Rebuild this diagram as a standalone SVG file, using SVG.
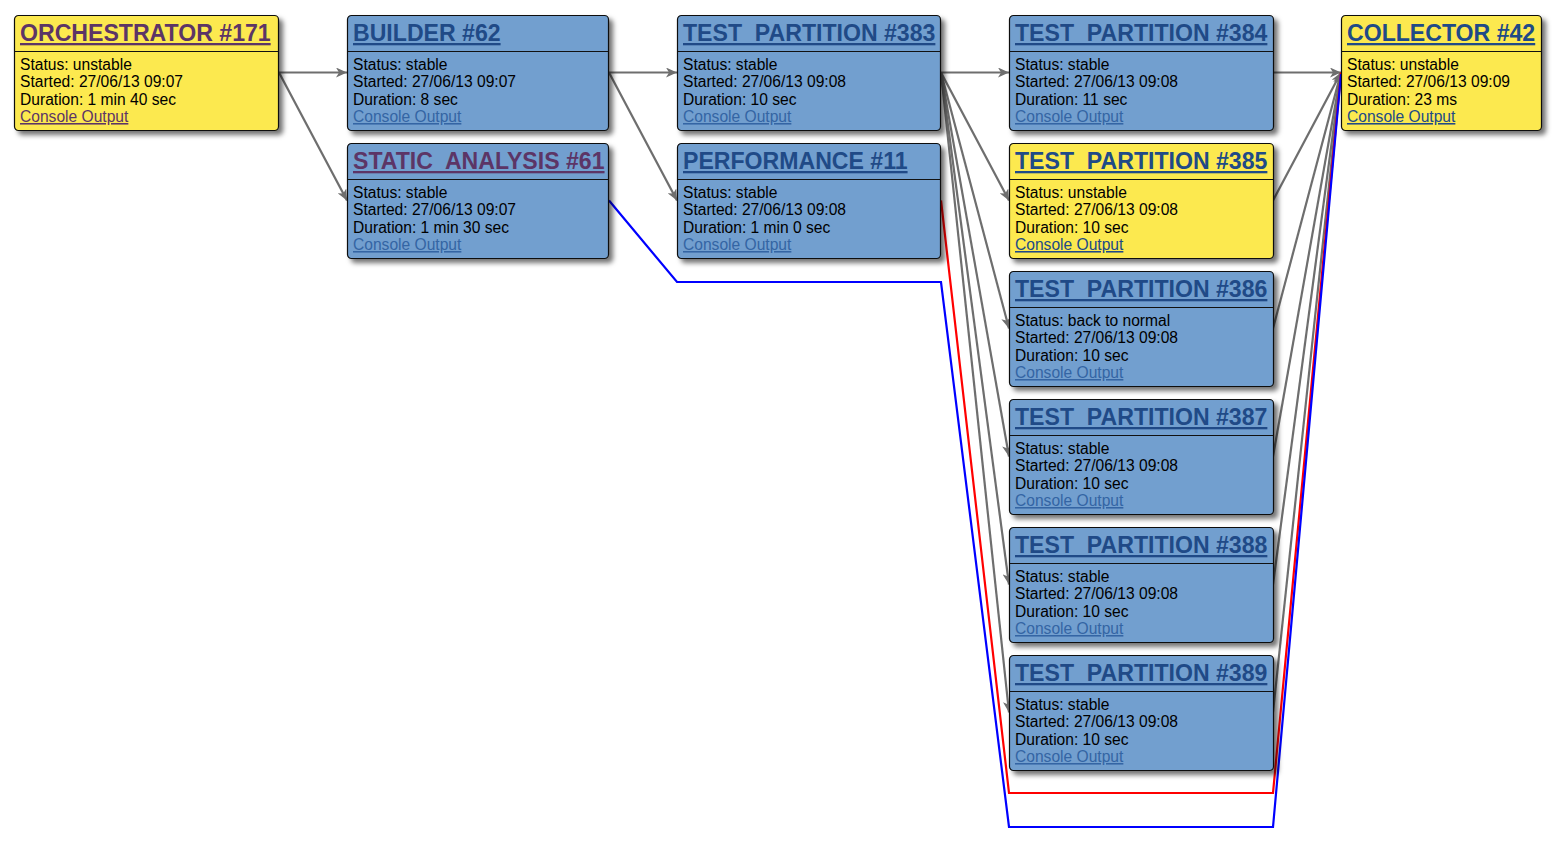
<svg xmlns="http://www.w3.org/2000/svg" width="1562" height="841" viewBox="0 0 1562 841">
<style>
.box{stroke:#111;stroke-width:1.2}
.y{fill:#fce94f}
.b{fill:#729fcf}
.div{stroke:#111;stroke-width:1.2}
.t{font-family:"Liberation Sans",Arial,sans-serif;font-size:23.1px;font-weight:bold;text-decoration:underline;white-space:pre}
.tb{fill:#204a87}
.tp{fill:#5c3566}
.s{font-family:"Liberation Sans",Arial,sans-serif;font-size:15.6px;fill:#000}
.lk{text-decoration:underline}
.lb{fill:#3465a4}
.ld{fill:#204a87}
.lp{fill:#5c3566}
.e{fill:none;stroke:#6e6e6e;stroke-width:2.2}
.red{fill:none;stroke:#ff0000;stroke-width:2.2}
.blue{fill:none;stroke:#0000ff;stroke-width:2.2}
</style>
<defs>
<filter id="sh" x="-10%" y="-10%" width="130%" height="140%">
<feDropShadow dx="4" dy="4" stdDeviation="2.5" flood-color="#000" flood-opacity="0.55"/>
</filter>
<marker id="ar" markerUnits="userSpaceOnUse" markerWidth="12" markerHeight="10" refX="11" refY="5" orient="auto">
<path d="M0,0 L11,5 L0,10 L3,5 z" fill="#6e6e6e"/>
</marker>
</defs>

<g id="connectors">
<line class="e" x1="279" y1="72.5" x2="347" y2="72.5" marker-end="url(#ar)"/>
<line class="e" x1="279" y1="72.5" x2="347" y2="200.5" marker-end="url(#ar)"/>
<line class="e" x1="609" y1="72.5" x2="677" y2="72.5" marker-end="url(#ar)"/>
<line class="e" x1="609" y1="72.5" x2="677" y2="200.5" marker-end="url(#ar)"/>
<line class="e" x1="941" y1="72.5" x2="1009" y2="72.5" marker-end="url(#ar)"/>
<line class="e" x1="941" y1="72.5" x2="1009" y2="200.5" marker-end="url(#ar)"/>
<line class="e" x1="941" y1="72.5" x2="1009" y2="328.5" marker-end="url(#ar)"/>
<line class="e" x1="941" y1="72.5" x2="1009" y2="456.5" marker-end="url(#ar)"/>
<line class="e" x1="941" y1="72.5" x2="1009" y2="584.5" marker-end="url(#ar)"/>
<line class="e" x1="941" y1="72.5" x2="1009" y2="712.5" marker-end="url(#ar)"/>
<line class="e" x1="1273" y1="72.5" x2="1341" y2="72.5" marker-end="url(#ar)"/>
<line class="e" x1="1273" y1="200.5" x2="1341" y2="72.5" marker-end="url(#ar)"/>
<line class="e" x1="1273" y1="328.5" x2="1341" y2="72.5" marker-end="url(#ar)"/>
<line class="e" x1="1273" y1="456.5" x2="1341" y2="72.5" marker-end="url(#ar)"/>
<line class="e" x1="1273" y1="584.5" x2="1341" y2="72.5" marker-end="url(#ar)"/>
<line class="e" x1="1273" y1="712.5" x2="1341" y2="72.5" marker-end="url(#ar)"/>
<polyline class="red" points="941,200.5 1009,793 1273,793 1341,72.5"/>
<polyline class="blue" points="609,200.5 677,282 941,282 1009,827 1273,827 1341,74"/>
</g>

<g id="orchestrator" transform="translate(14.5,15.5)">
<rect class="box y" width="264" height="115" rx="4" filter="url(#sh)"/>
<line class="div" x1="0" y1="36" x2="264" y2="36"/>
<text class="t tp" x="5.5" y="25.5">ORCHESTRATOR #171</text>
<text class="s" x="5.5" y="54.5">Status: unstable</text>
<text class="s" x="5.5" y="71.8">Started: 27/06/13 09:07</text>
<text class="s" x="5.5" y="89.2">Duration: 1 min 40 sec</text>
<text class="s lk lp" x="5.5" y="106.5">Console Output</text>
</g>

<g id="builder" transform="translate(347.5,15.5)">
<rect class="box b" width="261" height="115" rx="4" filter="url(#sh)"/>
<line class="div" x1="0" y1="36" x2="261" y2="36"/>
<text class="t tb" x="5.5" y="25.5">BUILDER #62</text>
<text class="s" x="5.5" y="54.5">Status: stable</text>
<text class="s" x="5.5" y="71.8">Started: 27/06/13 09:07</text>
<text class="s" x="5.5" y="89.2">Duration: 8 sec</text>
<text class="s lk lb" x="5.5" y="106.5">Console Output</text>
</g>

<g id="static_analysis" transform="translate(347.5,143.5)">
<rect class="box b" width="261" height="115" rx="4" filter="url(#sh)"/>
<line class="div" x1="0" y1="36" x2="261" y2="36"/>
<text class="t tp" x="5.5" y="25.5">STATIC  ANALYSIS #61</text>
<text class="s" x="5.5" y="54.5">Status: stable</text>
<text class="s" x="5.5" y="71.8">Started: 27/06/13 09:07</text>
<text class="s" x="5.5" y="89.2">Duration: 1 min 30 sec</text>
<text class="s lk lb" x="5.5" y="106.5">Console Output</text>
</g>

<g id="test_partition_383" transform="translate(677.5,15.5)">
<rect class="box b" width="263" height="115" rx="4" filter="url(#sh)"/>
<line class="div" x1="0" y1="36" x2="263" y2="36"/>
<text class="t tb" x="5.5" y="25.5">TEST  PARTITION #383</text>
<text class="s" x="5.5" y="54.5">Status: stable</text>
<text class="s" x="5.5" y="71.8">Started: 27/06/13 09:08</text>
<text class="s" x="5.5" y="89.2">Duration: 10 sec</text>
<text class="s lk lb" x="5.5" y="106.5">Console Output</text>
</g>

<g id="performance" transform="translate(677.5,143.5)">
<rect class="box b" width="263" height="115" rx="4" filter="url(#sh)"/>
<line class="div" x1="0" y1="36" x2="263" y2="36"/>
<text class="t tb" x="5.5" y="25.5">PERFORMANCE #11</text>
<text class="s" x="5.5" y="54.5">Status: stable</text>
<text class="s" x="5.5" y="71.8">Started: 27/06/13 09:08</text>
<text class="s" x="5.5" y="89.2">Duration: 1 min 0 sec</text>
<text class="s lk lb" x="5.5" y="106.5">Console Output</text>
</g>

<g id="test_partition_384" transform="translate(1009.5,15.5)">
<rect class="box b" width="264" height="115" rx="4" filter="url(#sh)"/>
<line class="div" x1="0" y1="36" x2="264" y2="36"/>
<text class="t tb" x="5.5" y="25.5">TEST  PARTITION #384</text>
<text class="s" x="5.5" y="54.5">Status: stable</text>
<text class="s" x="5.5" y="71.8">Started: 27/06/13 09:08</text>
<text class="s" x="5.5" y="89.2">Duration: 11 sec</text>
<text class="s lk lb" x="5.5" y="106.5">Console Output</text>
</g>

<g id="test_partition_385" transform="translate(1009.5,143.5)">
<rect class="box y" width="264" height="115" rx="4" filter="url(#sh)"/>
<line class="div" x1="0" y1="36" x2="264" y2="36"/>
<text class="t tb" x="5.5" y="25.5">TEST  PARTITION #385</text>
<text class="s" x="5.5" y="54.5">Status: unstable</text>
<text class="s" x="5.5" y="71.8">Started: 27/06/13 09:08</text>
<text class="s" x="5.5" y="89.2">Duration: 10 sec</text>
<text class="s lk ld" x="5.5" y="106.5">Console Output</text>
</g>

<g id="test_partition_386" transform="translate(1009.5,271.5)">
<rect class="box b" width="264" height="115" rx="4" filter="url(#sh)"/>
<line class="div" x1="0" y1="36" x2="264" y2="36"/>
<text class="t tb" x="5.5" y="25.5">TEST  PARTITION #386</text>
<text class="s" x="5.5" y="54.5">Status: back to normal</text>
<text class="s" x="5.5" y="71.8">Started: 27/06/13 09:08</text>
<text class="s" x="5.5" y="89.2">Duration: 10 sec</text>
<text class="s lk lb" x="5.5" y="106.5">Console Output</text>
</g>

<g id="test_partition_387" transform="translate(1009.5,399.5)">
<rect class="box b" width="264" height="115" rx="4" filter="url(#sh)"/>
<line class="div" x1="0" y1="36" x2="264" y2="36"/>
<text class="t tb" x="5.5" y="25.5">TEST  PARTITION #387</text>
<text class="s" x="5.5" y="54.5">Status: stable</text>
<text class="s" x="5.5" y="71.8">Started: 27/06/13 09:08</text>
<text class="s" x="5.5" y="89.2">Duration: 10 sec</text>
<text class="s lk lb" x="5.5" y="106.5">Console Output</text>
</g>

<g id="test_partition_388" transform="translate(1009.5,527.5)">
<rect class="box b" width="264" height="115" rx="4" filter="url(#sh)"/>
<line class="div" x1="0" y1="36" x2="264" y2="36"/>
<text class="t tb" x="5.5" y="25.5">TEST  PARTITION #388</text>
<text class="s" x="5.5" y="54.5">Status: stable</text>
<text class="s" x="5.5" y="71.8">Started: 27/06/13 09:08</text>
<text class="s" x="5.5" y="89.2">Duration: 10 sec</text>
<text class="s lk lb" x="5.5" y="106.5">Console Output</text>
</g>

<g id="test_partition_389" transform="translate(1009.5,655.5)">
<rect class="box b" width="264" height="115" rx="4" filter="url(#sh)"/>
<line class="div" x1="0" y1="36" x2="264" y2="36"/>
<text class="t tb" x="5.5" y="25.5">TEST  PARTITION #389</text>
<text class="s" x="5.5" y="54.5">Status: stable</text>
<text class="s" x="5.5" y="71.8">Started: 27/06/13 09:08</text>
<text class="s" x="5.5" y="89.2">Duration: 10 sec</text>
<text class="s lk lb" x="5.5" y="106.5">Console Output</text>
</g>

<g id="collector" transform="translate(1341.5,15.5)">
<rect class="box y" width="200" height="115" rx="4" filter="url(#sh)"/>
<line class="div" x1="0" y1="36" x2="200" y2="36"/>
<text class="t tb" x="5.5" y="25.5">COLLECTOR #42</text>
<text class="s" x="5.5" y="54.5">Status: unstable</text>
<text class="s" x="5.5" y="71.8">Started: 27/06/13 09:09</text>
<text class="s" x="5.5" y="89.2">Duration: 23 ms</text>
<text class="s lk ld" x="5.5" y="106.5">Console Output</text>
</g>
</svg>
